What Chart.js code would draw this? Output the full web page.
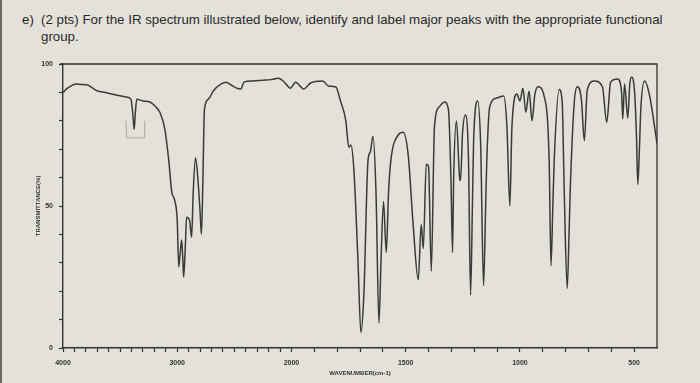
<!DOCTYPE html>
<html>
<head>
<meta charset="utf-8">
<script src="https://cdn.jsdelivr.net/npm/chart.js@4.4.1/dist/chart.umd.min.js"></script>
<style>
  html, body { margin: 0; padding: 0; }
  body {
    width: 700px; height: 383px; overflow: hidden; position: relative;
    background: #e3e1d9;
    border-left: 2px solid #6b6a66; box-sizing: border-box;
  }
  #question {
    position: absolute; left: 20px; top: 11px; width: 678px;
    font-family: "Liberation Sans", Arial, sans-serif; font-size: 13.3px;
    line-height: 17px; color: #2a2a2a;
  }
  #question .lbl { display: inline-block; width: 19px; }
  #question .ind { padding-left: 19px; }
  #wrap { position: absolute; left: -2px; top: 0; width: 700px; height: 383px; }
</style>
</head>
<body>
<div id="question"><span class="lbl">e)</span>(2 pts) For the IR spectrum illustrated below, identify and label major peaks with the appropriate functional<br><span class="ind">group.</span></div>
<div id="wrap"><canvas id="irChart" width="700" height="383"></canvas></div>
<script>
// wavenumbers (cm-1), high to low
const wavenumbers = [
  4000, 3960, 3887, 3840, 3784, 3740, 3697, 3628, 3580, 3524, 3437, 3405, 3390, 3377, 3368, 3355,
  3300, 3238, 3190, 3152, 3108, 3074, 3048, 3022, 3000, 2987, 2975, 2961, 2952, 2944, 2930, 2918,
  2892, 2874, 2860, 2840, 2820, 2800, 2788, 2775, 2762, 2727, 2684, 2615, 2571, 2528, 2480, 2442,
  2416, 2340, 2251, 2180, 2113, 2060, 2009,
  1982, 1947, 1916, 1863, 1837, 1806, 1784, 1762, 1749, 1740, 1727, 1709, 1696, 1683, 1665, 1655,
  1643, 1630, 1617, 1608, 1597, 1585, 1575, 1565, 1533, 1511, 1489, 1467, 1445, 1432, 1423, 1410,
  1400, 1388, 1374, 1352, 1330, 1313, 1302, 1295, 1290, 1278, 1264, 1260, 1251, 1238, 1225, 1216,
  1208, 1203, 1185, 1172, 1159, 1150, 1145, 1132, 1101, 1071, 1057, 1044, 1035, 1013, 1000, 987,
  974, 960, 947, 935, 921, 894, 872, 864, 856, 850, 828, 815, 806, 793, 785, 780,
  762, 749, 731, 718, 705, 674, 639, 620, 603, 572, 555, 550, 542, 528, 519, 511,
  498, 490, 484, 477, 471, 454, 432, 400
];
// % transmittance at each wavenumber above
const transmittance = [
  90, 91.5, 93, 92.8, 92.6, 91.5, 90.5, 90, 89.5, 89, 88.3, 87.5, 83, 77, 82, 87.6,
  87, 86.6, 85, 83, 77, 66, 55, 52, 45, 28.6, 33, 38, 32, 25, 35, 46,
  45, 39, 55, 67, 60, 48, 40, 60, 84, 87.6, 90.5, 93, 93.6, 92.6, 91.5, 91.2,
  93.6, 94, 94.3, 94.5, 95, 93.5, 91.5,
  93.6, 91.2, 93.3, 94, 92.2, 91.9, 86.6, 80, 70.7, 71.5, 63, 31, 5.5, 19, 66, 69,
  74.6, 55, 8.8, 31, 51.6, 33.6, 55, 66, 75, 76, 68, 43, 24, 43.5, 35, 64.7,
  64, 27, 78, 85, 86.6, 84, 60, 33.6, 60, 80, 60, 59, 76, 82, 66, 18.7,
  50, 72, 87, 72, 22, 50, 66, 85, 88, 88.7, 78, 50, 78, 89.4, 87, 91.5,
  83, 90.5, 80, 89, 92, 88.7, 66, 29, 50, 66, 91, 86.6, 55, 21, 40, 55,
  86.6, 92, 87.6, 73, 91, 94, 92, 79.5, 93.6, 94.7, 90, 80.6, 93, 81, 93, 95.4,
  90, 75, 57.6, 70, 84, 94, 88.7, 72
];
const xTickLabels = [4000, 3000, 2000, 1500, 1000, 500];
const yTickLabels = [0, 50, 100];

// the chart paper doubles its scale below 2000 cm-1
function toPos(w) { return w >= 2000 ? (4000 - w) / 1000 : 2 + (2000 - w) / 500; }
function fromPos(p) { return p <= 2 ? 4000 - p * 1000 : 2000 - (p - 2) * 500; }

const points = wavenumbers.map((w, i) => ({ x: toPos(w), y: transmittance[i] }));

const ink = '#333333';
const tickFont = { family: 'Liberation Sans', size: 7, weight: 'bold' };

// frame on top and right, plus the faint pencil bracket under the 3380 dip
const framePlugin = {
  id: 'frame',
  afterDraw(chart) {
    const { ctx, chartArea: a, scales } = chart;
    ctx.save();
    ctx.strokeStyle = ink;
    ctx.lineWidth = 1.3;
    ctx.beginPath();
    ctx.moveTo(a.left - 3, a.top);
    ctx.lineTo(a.right, a.top);
    ctx.lineTo(a.right, a.bottom);
    ctx.stroke();
    const x1 = scales.x.getPixelForValue(toPos(3450));
    const x2 = scales.x.getPixelForValue(toPos(3285));
    const y1 = scales.y.getPixelForValue(80);
    const y2 = scales.y.getPixelForValue(74);
    ctx.strokeStyle = '#a9a8a3';
    ctx.lineWidth = 1;
    ctx.beginPath();
    ctx.moveTo(x1, y1);
    ctx.lineTo(x1 + 1, y2);
    ctx.lineTo(x2, y2);
    ctx.lineTo(x2, y1);
    ctx.stroke();
    ctx.restore();
  }
};

window.onload = function () {
  const ctx = document.getElementById('irChart').getContext('2d');
  new Chart(ctx, {
    type: 'line',
    data: {
      datasets: [{
        label: 'IR',
        data: points,
        borderColor: '#3a3a3a',
        borderWidth: 1.5,
        pointRadius: 0,
        cubicInterpolationMode: 'monotone',
        fill: false
      }]
    },
    options: {
      responsive: false,
      animation: false,
      layout: { padding: { left: 0, top: 64, right: 43, bottom: 0 } },
      plugins: { legend: { display: false }, tooltip: { enabled: false } },
      scales: {
        x: {
          type: 'linear',
          min: 0,
          max: toPos(400),
          afterFit(scale) { scale.height = 35; },
          afterBuildTicks(scale) {
            const t = [];
            for (let w = 4000; w >= 500; w -= 100) t.push({ value: toPos(w) });
            scale.ticks = t;
          },
          ticks: {
            autoSkip: false,
            maxRotation: 0,
            padding: 7,
            color: ink,
            font: tickFont,
            callback(v) {
              const w = Math.round(fromPos(v));
              return xTickLabels.includes(w) ? String(w) : '';
            }
          },
          grid: { drawOnChartArea: false, tickLength: 4, tickColor: ink, tickWidth: 1.2 },
          border: { color: ink, width: 1.4 },
          title: {
            display: true,
            text: 'WAVENUMBER(cm-1)',
            color: ink,
            font: { family: 'Liberation Sans', size: 6, weight: 'bold' },
            padding: { bottom: 6, top: 0 }
          }
        },
        y: {
          min: 0,
          max: 100,
          afterFit(scale) { scale.width = 63; },
          ticks: {
            stepSize: 10,
            padding: 6,
            color: ink,
            font: tickFont,
            callback(v) { return yTickLabels.includes(v) ? String(v) : ''; }
          },
          grid: { drawOnChartArea: false, tickLength: 4, tickColor: ink, tickWidth: 1.2 },
          border: { color: ink, width: 1.4 },
          title: {
            display: true,
            text: 'TRANSMITTANCE(%)',
            color: ink,
            font: { family: 'Liberation Sans', size: 6, weight: 'bold' },
            padding: { top: 35, bottom: 0 }
          }
        }
      }
    },
    plugins: [framePlugin]
  });
};
</script>
</body>
</html>
